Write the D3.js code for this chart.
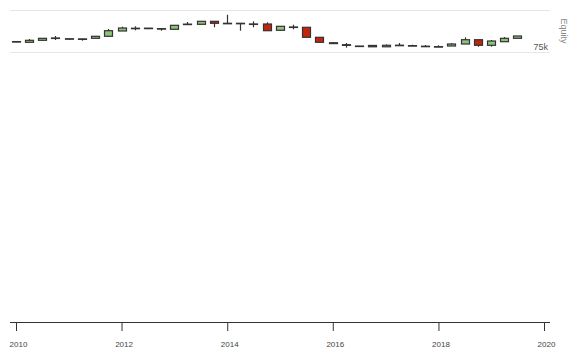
<!DOCTYPE html>
<head>
    <title>Equity</title>
    <meta charset="utf-8">
    <style>
        body { margin: 0; background: #fff; }
        text { font-family: "Liberation Sans", Arial, sans-serif; }
        .grid line { stroke: #e6e6e6; stroke-width: 1; }
        .wick { stroke: #333; stroke-width: 1.2; }
        .body { stroke: #333; stroke-width: 1.2; }
        .up { fill: #8dc27a; }
        .down { fill: #c1250c; }
        .xaxis path, .xaxis line { stroke: #333; }
        .xaxis text { fill: #444; font-size: 8px; }
    </style>
    <script src="https://cdn.jsdelivr.net/npm/d3@7"></script>
</head>
<body>
<svg width="580" height="360"></svg>
<script>

// quarterly candles, 2010-01 .. 2019-07
var dates = ["2010-01-01","2010-04-01","2010-07-01","2010-10-01","2011-01-01","2011-04-01","2011-07-01","2011-10-01",
             "2012-01-01","2012-04-01","2012-07-01","2012-10-01","2013-01-01","2013-04-01","2013-07-01","2013-10-01",
             "2014-01-01","2014-04-01","2014-07-01","2014-10-01","2015-01-01","2015-04-01","2015-07-01","2015-10-01",
             "2016-01-01","2016-04-01","2016-07-01","2016-10-01","2017-01-01","2017-04-01","2017-07-01","2017-10-01",
             "2018-01-01","2018-04-01","2018-07-01","2018-10-01","2019-01-01","2019-04-01","2019-07-01"];
var open  = [77950,77770,78960,80300,79700,79800,80150,81350,84500,86100,86200,85900,85510,88400,88490,90270,
             89100,89100,88700,88670,84920,86900,86700,80750,77500,76350,75450,75900,75100,76000,75800,75450,
             75200,75570,76760,79320,75990,78130,80150];
var high  = [78300,79740,80150,81520,80000,79900,81400,85690,87060,87300,86300,86000,87950,89860,90300,90300,
             94200,89200,90270,89680,87300,88250,86750,80800,77600,77360,75600,75900,76500,77360,76350,76170,
             75990,77360,80750,79320,79140,80930,81600];
var low   = [77800,77770,78960,79140,79300,78730,80100,81350,84500,84920,85600,84680,85500,88400,88450,86700,
             89000,84680,86700,84680,84900,85510,80700,77700,76900,74600,75400,75100,75100,75900,75600,74980,
             75000,75570,76760,75150,75150,78130,80100];
var close = [78200,78960,80150,80350,79900,79600,81350,84680,86290,86150,86000,85700,87890,88600,90270,89080,
             89080,89000,88650,84680,87300,86850,80750,77770,77000,75950,75550,75100,76000,76050,75700,75350,
             75100,76760,79320,75990,78550,80150,81520];
var xTicks = [2010, 2012, 2014, 2016, 2018, 2020];
var yTicks = [75000];

var parse = d3.timeParse("%Y-%m-%d");
var data = dates.map(function(d, i) {
  return { date: parse(d), open: open[i], high: high[i], low: low[i], close: close[i] };
});

var svg = d3.select("svg");

var x = d3.scaleTime()
    .domain([new Date(2010, 0, 1), new Date(2020, 0, 1)])
    .range([16, 544]);

var y = d3.scaleLinear()
    .domain([72000, 97000])
    .range([52, 10]);

// panel grid
var grid = svg.append("g").attr("class", "grid");
grid.append("line").attr("x1", 10).attr("x2", 550).attr("y1", 10.5).attr("y2", 10.5);
grid.append("line").attr("x1", 10).attr("x2", 550).attr("y1", 52.5).attr("y2", 52.5);

// candles
var candles = svg.append("g").selectAll("g")
    .data(data)
  .enter().append("g");

candles.append("line")
    .attr("class", "wick")
    .attr("x1", function(d) { return Math.round(x(d.date)) + 0.5; })
    .attr("x2", function(d) { return Math.round(x(d.date)) + 0.5; })
    .attr("y1", function(d) { return y(d.high); })
    .attr("y2", function(d) { return y(d.low); });

candles.append("rect")
    .attr("class", function(d) { return "body " + (d.close >= d.open ? "up" : "down"); })
    .attr("x", function(d) { return Math.round(x(d.date)) + 0.5 - 4; })
    .attr("width", 8)
    .attr("y", function(d) { return y(Math.max(d.open, d.close)); })
    .attr("height", function(d) { return Math.max(0.5, Math.abs(y(d.open) - y(d.close))); });

// y tick label
svg.selectAll(".ytick")
    .data(yTicks)
  .enter().append("text")
    .attr("class", "ytick")
    .attr("x", 548)
    .attr("y", function(d) { return y(d) + 3; })
    .attr("text-anchor", "end")
    .style("font-size", "9px")
    .style("fill", "#555")
    .text(function(d) { return d3.format("~s")(d); });

svg.append("text")
    .attr("transform", "translate(561,31) rotate(90)")
    .attr("text-anchor", "middle")
    .style("font-size", "9px")
    .style("fill", "#888")
    .text("Equity");

// x axis
var xAxis = d3.axisBottom(x)
    .tickValues(xTicks.map(function(yr) { return new Date(yr, 0, 1); }))
    .tickFormat(d3.timeFormat("%Y"))
    .tickSize(9)
    .tickSizeOuter(0)
    .tickPadding(10);

var gx = svg.append("g")
    .attr("class", "xaxis")
    .attr("transform", "translate(0,322)")
    .call(xAxis);
gx.select(".domain").attr("d", "M10,0.5H550");
gx.selectAll("text").attr("dx", 2);

</script>
</body>
